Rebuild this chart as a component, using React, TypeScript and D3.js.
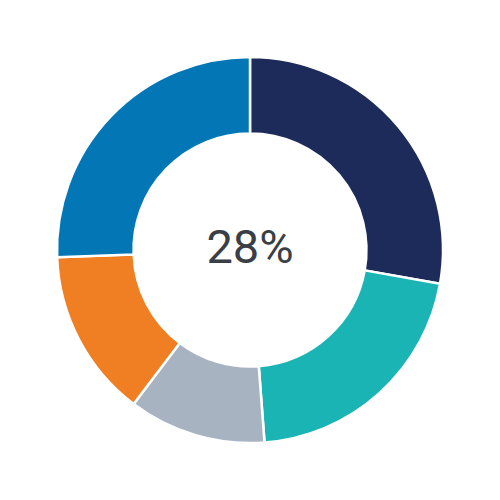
import React from "react";
import * as d3 from "d3";

const categories = ["A", "B", "C", "D", "E"];
const values = [27.8, 21.0, 11.5, 14.1, 25.6];
const colors = ["#1c2b5a", "#1bb4b5", "#a8b3c1", "#f07e22", "#0377b5"];
const centerLabel = "28%";

export default function App() {
  const width = 500;
  const height = 500;
  const cx = 250;
  const cy = 250;
  const pie = d3.pie<number>().sort(null).value((d) => d);
  const arcs = pie(values);
  const arc = d3.arc<d3.PieArcDatum<number>>().innerRadius(116.5).outerRadius(193);
  return (
    <svg
      width={width}
      height={height}
      style={{ position: "absolute", left: 0, top: 0, background: "#fff" }}
    >
      <g transform={`translate(${cx},${cy})`}>
        {arcs.map((a, i) => (
          <path
            key={categories[i]}
            d={arc(a) || ""}
            fill={colors[i]}
            stroke="#fff"
            strokeWidth={2.5}
          />
        ))}
        <text
          x={0}
          y={13}
          textAnchor="middle"
          fontFamily="Roboto, sans-serif"
          fontSize={47}
          fill="#3a3f47"
        >
          {centerLabel}
        </text>
      </g>
    </svg>
  );
}
